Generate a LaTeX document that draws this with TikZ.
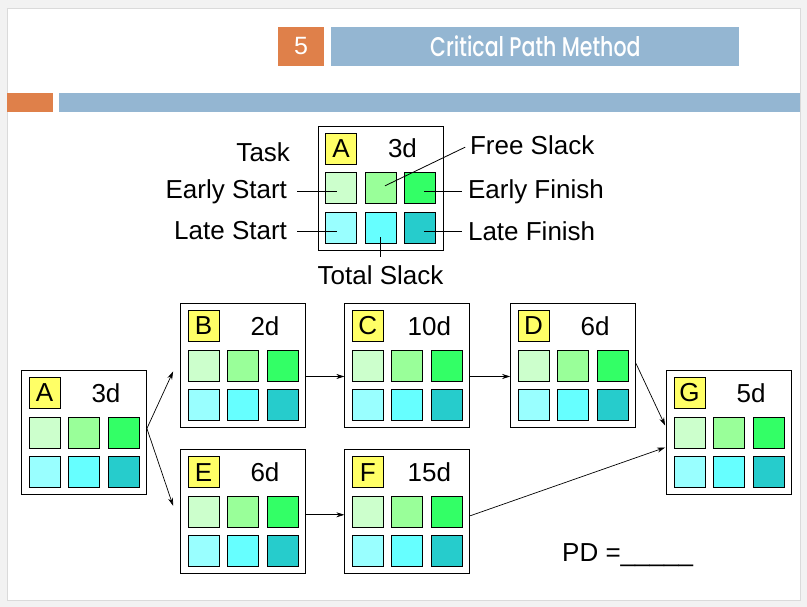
\documentclass[tikz,border=0pt]{standalone}
\usepackage{fontspec}
\setmainfont{Liberation Sans}
\newfontfamily\titlefont{Poppins}[FakeStretch=0.76, UprightFont=*-Medium]
\usetikzlibrary{positioning,arrows.meta}

\definecolor{pagegray}{RGB}{242,242,242}
\definecolor{slideedge}{RGB}{218,218,218}
\definecolor{hdorange}{RGB}{223,128,74}
\definecolor{hdblue}{RGB}{148,182,210}
\definecolor{idyellow}{RGB}{255,255,102}
\definecolor{escol}{RGB}{204,255,204}
\definecolor{fscol}{RGB}{153,255,153}
\definecolor{efcol}{RGB}{51,255,102}
\definecolor{lscol}{RGB}{153,255,255}
\definecolor{tscol}{RGB}{102,255,255}
\definecolor{lfcol}{RGB}{38,204,204}

% cells of one task box: box name, task, duration
\newcommand{\taskcells}[3]{%
  \node[idcell] (#1-id) at ([shift={(-39.5,39.5)}]#1.center) {#2};
  \node[durtext] (#1-dur) at ([shift={(22,39.5)}]#1.center) {#3};
  \node[cell, fill=escol] (#1-es) at ([shift={(-39.5,0)}]#1.center) {};
  \node[cell, fill=fscol] (#1-fs) at (#1.center) {};
  \node[cell, fill=efcol] (#1-ef) at ([shift={(39.5,0)}]#1.center) {};
  \node[cell, fill=lscol] (#1-ls) at ([shift={(-39.5,-39.5)}]#1.center) {};
  \node[cell, fill=tscol] (#1-ts) at ([shift={(0,-39.5)}]#1.center) {};
  \node[cell, fill=lfcol] (#1-lf) at ([shift={(39.5,-39.5)}]#1.center) {};
}

\begin{document}
\begin{tikzpicture}[x=1pt, y=1pt,
  node distance=21.5pt and 38.5pt,
  txt/.style={font=\fontsize{26}{30}\selectfont, inner sep=1pt},
  lbl/.style={txt},
  side/.style={lbl, yshift=-3.5pt},
  taskbox/.style={draw, line width=0.8pt, minimum width=125pt, minimum height=124pt, inner sep=0pt},
  cell/.style={draw, line width=0.7pt, minimum size=31pt, inner sep=0pt},
  idcell/.style={cell, fill=idyellow, txt},
  durtext/.style={txt},
  bar/.style={inner sep=0pt, minimum height=39pt},
  lead/.style={line width=0.8pt, shorten <=9pt, shorten >=4pt},
  arrow/.style={-{Stealth[length=8pt, width=5pt]}, line width=0.7pt}]
% slide
\fill[pagegray] (0,0) rectangle (807,607);
\draw[slideedge, fill=white] (7,7) rectangle (800,599);
\useasboundingbox (0,0) rectangle (807,607);

% header
\node[bar, fill=hdorange, minimum width=46pt, text=white, font=\fontsize{25}{28}\selectfont] (num) at (301,560.5) {5};
\node[bar, fill=hdblue, minimum width=408pt, right=7pt of num, text=white, font=\titlefont\fontsize{27}{30}\selectfont] (title) {Critical Path Method};
\node[bar, fill=hdorange, minimum width=46pt, minimum height=19pt] (ruleL) at (30,504.5) {};
\node[bar, fill=hdblue, minimum width=741pt, minimum height=19pt, right=6pt of ruleL] (ruleR) {};

% legend
\node[taskbox] (L) at (380.5,419) {};
\taskcells{L}{A}{3d}
\node[side, left=34pt of L-id] (task) {Task};
\node[side, left=37pt of L-es] (es) {Early Start};
\node[side, left=37pt of L-ls] (ls) {Late Start};
\node[side, right=31pt of L-ef] (ef) {Early Finish};
\node[side, right=31pt of L-lf] (lf) {Late Finish};
\node[lbl, above right=16pt and 33pt of L-ef] (fsl) {Free Slack};
\node[lbl, below=21.5pt of L-ts] (tsl) {Total Slack};
\draw[lead] (es) -- (es -| L-es.center);
\draw[lead] (ls) -- (ls -| L-ls.center);
\draw[lead, shorten <=5pt] (ef) -- (ef -| L-ef.center);
\draw[lead, shorten <=5pt] (lf) -- (lf -| L-lf.center);
\draw[lead, shorten <=4pt, shorten >=5pt] (fsl.west) -- (L-fs.center);
\draw[lead, shorten <=10pt, shorten >=8pt] (L-ts.center) -- (tsl.north);

% network
\node[taskbox] (A) at (84,174.5) {};
\node[taskbox] (B) at (243,241.5) {};
\node[taskbox, right=of B] (C) {};
\node[taskbox, right=40pt of C] (D) {};
\node[taskbox, below=of B] (E) {};
\node[taskbox, right=of E] (F) {};
\node[taskbox] (G) at (729,174.5) {};
\taskcells{A}{A}{3d}
\taskcells{B}{B}{2d}
\taskcells{C}{C}{10d}
\taskcells{D}{D}{6d}
\taskcells{E}{E}{6d}
\taskcells{F}{F}{15d}
\taskcells{G}{G}{5d}
\draw[arrow] ([yshift=4pt]A.east) -- ([shift={(-7pt,-6pt)}]B.west);
\draw[arrow] ([yshift=4pt]A.east) -- ([shift={(-7pt,6pt)}]E.west);
\draw[arrow] ([yshift=-11pt]B.east) -- ([yshift=-11pt]C.west);
\draw[arrow] ([yshift=-11pt]C.east) -- ([yshift=-11pt]D.west);
\draw[arrow] ([yshift=-3pt]E.east) -- ([yshift=-3pt]F.west);
\draw[arrow] ([yshift=2pt]D.east) -- ([shift={(-1pt,7pt)}]G.west);
\draw[arrow] ([yshift=-4pt]F.east) -- ([shift={(-1pt,-15pt)}]G.west);

\node[txt, anchor=west] (pd) at (561,52) {PD =\_\_\_\_\_};
\end{tikzpicture}
\end{document}
